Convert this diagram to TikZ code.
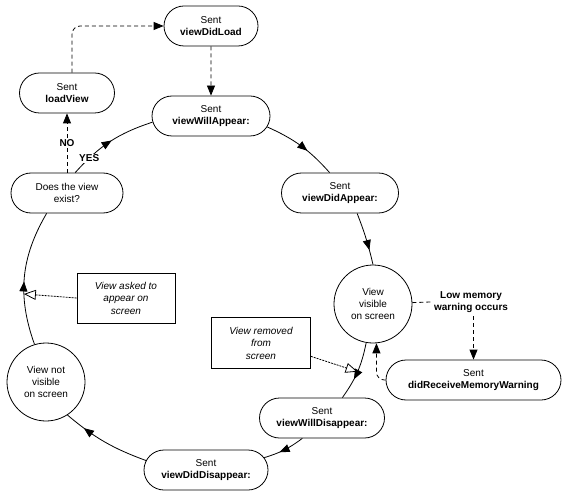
\documentclass[tikz,border=0pt]{standalone}
\usepackage{fontspec}
\setmainfont{Liberation Sans}
\usetikzlibrary{arrows.meta, positioning, shapes.misc, decorations.markings}
\tikzset{
        >={Triangle[length=10pt,width=8pt]}, % filled arrow heads
        every node/.style={font=\fontsize{10}{12}\selectfont, align=center},
        msg/.style={rounded rectangle, draw, line width=0.8pt, minimum height=40pt, inner sep=2pt}, % message boxes
        status/.style={circle, draw, line width=0.8pt, minimum size=78pt, inner sep=0pt}, % view states
        note/.style={rectangle, draw, line width=0.8pt, minimum width=98pt, minimum height=50pt, font=\fontsize{10}{12.5}\selectfont\itshape},
        flow/.style={line width=0.8pt},
        optional/.style={line width=0.8pt, dash pattern=on 4pt off 3pt, ->},
        hint/.style={line width=0.8pt, dash pattern=on 2pt off 1pt, -{Triangle[open,length=12pt,width=10pt]}},
        midarrow/.style={postaction={decorate}, decoration={markings, mark=at position #1 with {\arrow{>}}}},
        answer/.style={font=\fontsize{10}{12}\selectfont\bfseries, fill=white, inner sep=1pt},
    }
\begin{document}
\begin{tikzpicture}[x=1pt, y=1pt]
    \useasboundingbox (0,0) rectangle (577,-502);
    \node[msg, minimum width=98pt] (didload) at (211,-26) {Sent\\\textbf{viewDidLoad}};
    \node[msg, minimum width=122pt, below of=didload, node distance=90pt] (willappear) {Sent\\\textbf{viewWillAppear:}};
    \node[msg, minimum width=99pt] (loadview) at (67,-93) {Sent\\\textbf{loadView}};
    \node[msg, minimum width=116pt, below of=loadview, node distance=100pt] (exist) {Does the view\\exist?};
    \node[msg, minimum width=121pt] (didappear) at (340,-193) {Sent\\\textbf{viewDidAppear:}};
    \node[status] (vis) at (373,-304) {View\\visible\\on screen};
    \node[font=\fontsize{10}{12}\selectfont\bfseries] (lowmem) at (471,-302) {Low memory\\warning occurs};
    \node[msg, minimum width=179pt] (memwarn) at (473.5,-380) {Sent\\\textbf{didReceiveMemoryWarning}};
    \node[msg, minimum width=129pt] (willdis) at (322,-418) {Sent\\\textbf{viewWillDisappear:}};
    \node[msg, minimum width=128pt] (diddis) at (206,-470) {Sent\\\textbf{viewDidDisappear:}};
    \node[status] (notvis) at (46,-382) {View not\\visible\\on screen};
    \node[note] (asked) at (126,-298) {View asked to\\appear on\\screen};
    \node[note, minimum width=99pt, minimum height=51pt] (removed) at (261,-343) {View removed\\from\\screen};

    % the view life cycle
    \draw[flow]
      (exist.68) edge[bend left=15, midarrow=0.52] node[answer, pos=0.2] (yes) {YES} (willappear.186)
      (willappear.-11) edge[bend left=12, midarrow=0.6] (didappear.117)
      (didappear.-50) edge[bend left=4, midarrow=0.72] (vis.90)
      (vis.-100) edge[bend left=12, midarrow=0.64] node[coordinate, pos=0.5] (removedpt) {} (willdis.45)
      (willdis.-134) edge[bend left=10, midarrow=0.62] (diddis.12)
      (diddis.171) edge[bend left=10, midarrow=0.77] (notvis.-57)
      (notvis.107) edge[bend left=25, midarrow=0.47] node[coordinate, pos=0.37] (askedpt) {} (exist.-135);

    % loading and memory warnings
    \draw[optional] (exist.north) -- node[answer] (no) {NO} (loadview.south);
    \draw[optional, rounded corners=8pt] (loadview.76) |- (didload.west);
    \draw[optional] (didload) -- (willappear);
    \draw[line width=0.8pt, dash pattern=on 4pt off 3pt] (vis) -- (lowmem.west);
    \draw[optional] (lowmem.south -| memwarn) -- (memwarn.north);
    \draw[optional, rounded corners=8pt] (memwarn.west) -| (vis.-85);

    \draw[hint] (asked.west) -- (askedpt);
    \draw[hint] (removed.-15) -- (removedpt);
\end{tikzpicture}
\end{document}
